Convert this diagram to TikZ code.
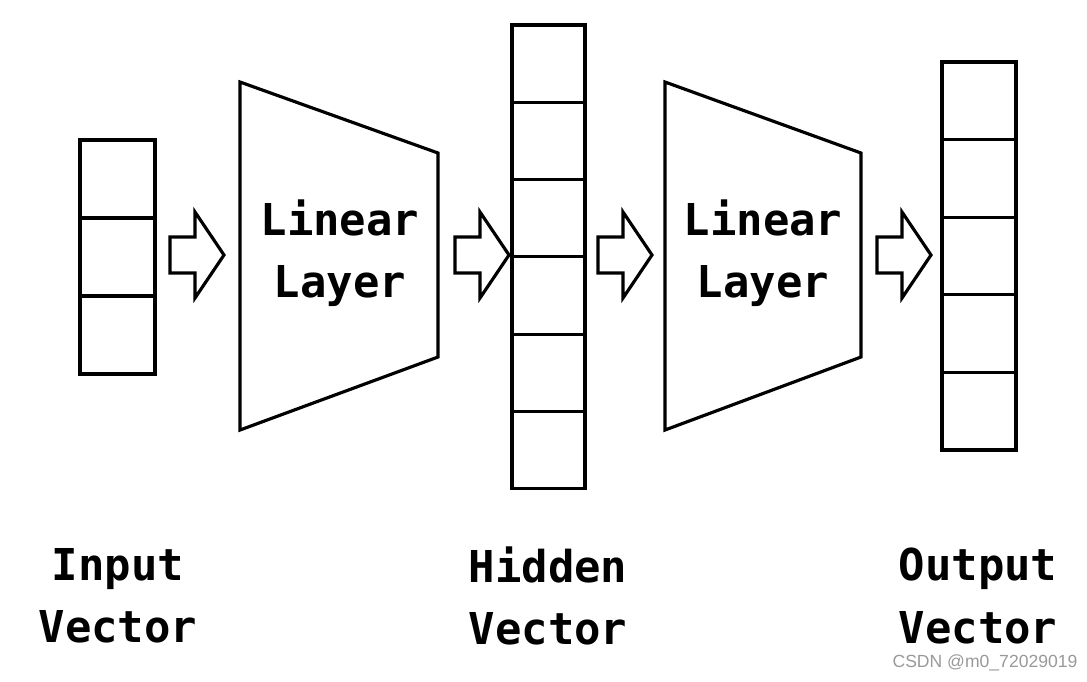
\documentclass[tikz,border=0pt]{standalone}
\usepackage{fontspec}
\newfontfamily\mono{DejaVu Sans Mono}
\setmainfont{Liberation Sans}
\begin{document}
\begin{tikzpicture}[x=0.02cm,y=-0.02cm,
  box/.style={line width=1.8pt},
  barr/.style={line width=1.8pt,line join=miter},
  lbl/.style={font=\mono\bfseries\fontsize{25}{35.5}\selectfont,align=center}]
\useasboundingbox (0,0) rectangle (1087,681);
% input vector
\foreach \i in {0,1,2} \draw[box] (80,140+78*\i) rectangle (155,218+78*\i);
\node (inv) at (118,596) [lbl] {Input\\Vector};
% trapezoids
\draw[box] (240,82) -- (438,153) -- (438,357) -- (240,430) -- cycle;
\node (l1) at (340,253) [lbl] {Linear\\Layer};
\draw[box] (665,82) -- (861,153) -- (861,357) -- (665,430) -- cycle;
\node (l2) at (763,253) [lbl] {Linear\\Layer};
% hidden
\foreach \i in {0,...,5} \draw[box] (512,25+77.3*\i) rectangle (585,102.3+77.3*\i);
\node (hv) at (548,596) [lbl] {Hidden\\Vector};
% output
\foreach \i in {0,...,4} \draw[box] (942,62+77.6*\i) rectangle (1016,139.6+77.6*\i);
\node (ov) at (978,596) [lbl] {Output\\Vector};
% block arrows
\foreach \x in {170,455,598,877}
  \draw[barr] (\x,237) -- (\x+25,237) -- (\x+25,212) -- (\x+54,255) -- (\x+25,298) -- (\x+25,273) -- (\x,273) -- cycle;
\node (wm) at (985,663) [font=\fontsize{10}{12}\selectfont,text=gray!80] {CSDN @m0\_72029019};
\end{tikzpicture}
\end{document}
